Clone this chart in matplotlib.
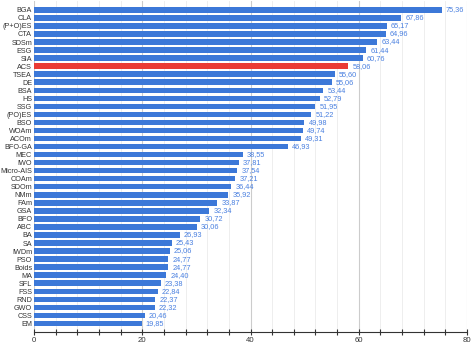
import matplotlib.pyplot as plt
from matplotlib.ticker import MultipleLocator

plt.rcParams["font.family"] = ["Liberation Sans", "DejaVu Sans"]

algorithms = ["BGA", "CLA", "(P+O)ES", "CTA", "SDSm", "ESG", "SIA", "ACS", "TSEA", "DE",
              "BSA", "HS", "SSG", "(PO)ES", "BSO", "WOAm", "ACOm", "BFO-GA", "MEC", "IWO",
              "Micro-AIS", "COAm", "SDOm", "NMm", "FAm", "GSA", "BFO", "ABC", "BA", "SA",
              "IWDm", "PSO", "Boids", "MA", "SFL", "FSS", "RND", "GWO", "CSS", "EM"]
scores = [75.36, 67.86, 65.17, 64.96, 63.44, 61.44, 60.76, 58.06, 55.60, 55.06,
          53.44, 52.79, 51.95, 51.22, 49.98, 49.74, 49.31, 46.93, 38.55, 37.81,
          37.54, 37.21, 36.44, 35.92, 33.87, 32.34, 30.72, 30.06, 26.93, 25.43,
          25.06, 24.77, 24.77, 24.40, 23.38, 22.84, 22.37, 22.32, 20.46, 19.85]
highlight = "ACS"

BLUE = "#3c78d8"
RED = "#ea3b35"
LABEL_BLUE = "#4a80e0"

fig = plt.figure(figsize=(4.74, 3.45), dpi=100)
ax = fig.add_axes([0.072, 0.037, 0.913, 0.96])

colors = [RED if a == highlight else BLUE for a in algorithms]
pos = list(range(len(algorithms)))
ax.barh(pos, scores, height=0.68, color=colors, zorder=3)

for p, v in zip(pos, scores):
    ax.annotate(f"{v:.2f}".replace(".", ","), (v, p), xytext=(3, 0),
                textcoords="offset points", va="center", ha="left",
                fontsize=5.3, color=LABEL_BLUE, zorder=4)

ax.set_xlim(0, 80)
ax.set_ylim(40.1, -1.1)
ax.set_yticks(pos)
ax.set_yticklabels(algorithms, fontsize=5.2, color="#333333")
ax.tick_params(axis="y", length=0, pad=1.5)

ax.xaxis.set_major_locator(MultipleLocator(20))
ax.xaxis.set_minor_locator(MultipleLocator(4))
ax.tick_params(axis="x", which="major", direction="inout", length=5, width=0.8,
               labelsize=5.6, labelcolor="#333333", pad=1, color="#333333")
ax.tick_params(axis="x", which="minor", direction="inout", length=4, width=0.8,
               color="#333333")
ax.grid(axis="x", which="major", color="#cccccc", linewidth=0.8, zorder=0)
ax.grid(axis="x", which="minor", color="#ebebeb", linewidth=0.6, zorder=0)

for s in ["top", "right", "left"]:
    ax.spines[s].set_visible(False)
ax.spines["bottom"].set_color("#333333")
ax.spines["bottom"].set_linewidth(0.8)
ax.spines["bottom"].set_zorder(5)

fig.savefig("out.png", dpi=100)
